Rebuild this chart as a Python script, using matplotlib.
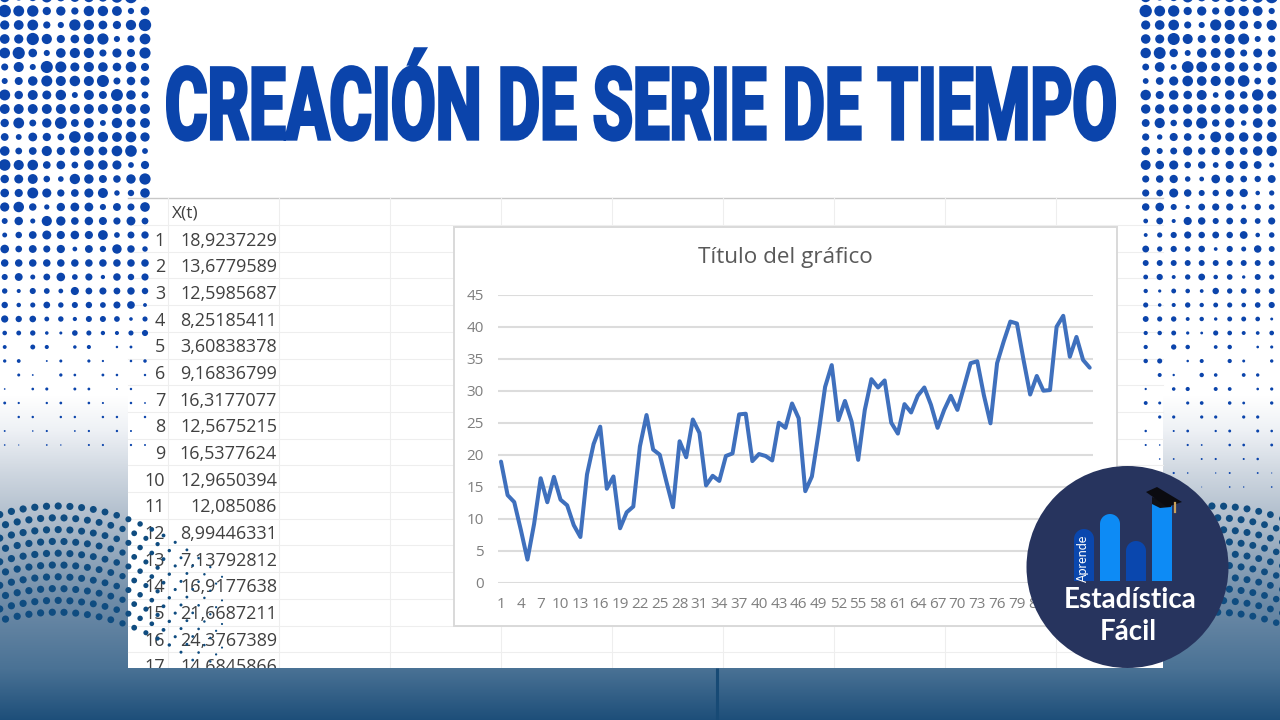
import numpy as np
import matplotlib
matplotlib.use("Agg")
import matplotlib.pyplot as plt
from matplotlib.colors import to_rgb
from matplotlib.patches import Circle, Polygon, Rectangle
from matplotlib.patheffects import AbstractPathEffect
from matplotlib.transforms import Affine2D

# %% values

x_t = [
    18.92, 13.68, 12.60, 8.25, 3.61, 9.17, 16.32, 12.57, 16.54, 12.97,
    12.09, 8.99, 7.14, 16.92, 21.67, 24.38, 14.68, 16.6, 8.5, 11.0,
    11.9, 21.3, 26.2, 20.8, 20.0, 15.8, 11.8, 22.1, 19.6, 25.5,
    23.4, 15.2, 16.7, 15.9, 19.8, 20.2, 26.3, 26.4, 19.0, 20.1,
    19.8, 19.1, 25.0, 24.2, 28.0, 25.7, 14.3, 16.6, 23.3, 30.6,
    34.0, 25.4, 28.4, 25.2, 19.2, 27.0, 31.8, 30.5, 31.6, 25.0,
    23.3, 27.9, 26.6, 29.2, 30.5, 27.8, 24.2, 27.0, 29.2, 27.0,
    30.6, 34.3, 34.6, 29.3, 24.9, 34.3, 37.7, 40.8, 40.5, 34.8,
    29.4, 32.3, 30.0, 30.1, 40.0, 41.7, 35.3, 38.4, 34.8, 33.6,
]
y_ticks = [0, 5, 10, 15, 20, 25, 30, 35, 40, 45]
# the labels after 82 are hidden by the logo
x_ticks = list(range(1, 83, 3))

table_rows = list(range(1, 18))
table_values = [
    "18,9237229", "13,6779589", "12,5985687", "8,25185411", "3,60838378",
    "9,16836799", "16,3177077", "12,5675215", "16,5377624", "12,9650394",
    "12,085086", "8,99446331", "7,13792812", "16,9177638", "21,6687211",
    "24,3767389", "14,6845866",
]

BLUE = "#0b44ab"
DOT_DARK = "#0f4c80"
NAVY = "#27345e"
W, H = 1280, 720


class StretchText(AbstractPathEffect):
    # the heading font is taller and narrower than anything installed
    def __init__(self, sy, lw):
        super().__init__()
        self.sy = sy
        self.lw = lw

    def draw_path(self, renderer, gc, tpath, affine, rgbFace=None):
        gc0 = renderer.new_gc()
        gc0.copy_properties(gc)
        gc0.set_linewidth(self.lw)
        gc0.set_joinstyle("miter")
        gc0.set_foreground(BLUE)
        renderer.draw_path(gc0, tpath, Affine2D().scale(1, self.sy) + affine, rgbFace)
        gc0.restore()


def halftone(ax, xs, ys, fade, z=4):
    # dots shrink with y; the pattern table only gives an uneven look
    pattern = [1.0, 0.85, 1.1, 0.7, 0.95, 1.2, 0.8, 1.0, 0.6, 1.05, 0.9]
    px, py, ps = [], [], []
    for i, x in enumerate(xs):
        for j, y in enumerate(ys):
            r = np.interp(y, fade[0], fade[1]) * pattern[(3 * i + 5 * j + i * j) % 11]
            if y > 340 and (i + 2 * j) % 3 == 0:
                continue
            px.append(x)
            py.append(y)
            ps.append((2 * r * 0.72) ** 2)
    ax.scatter(px, py, s=ps, color=BLUE, linewidths=0, zorder=z)


def arc_dots(ax, x0, k, xs, z=4):
    px, py, ps = [], [], []
    for row in range(10):
        for x in xs:
            xx = x + (row % 2) * 5.8
            y = 506 + k * (xx - x0) ** 2 + 11.8 * row
            dist = xx - x0
            if y > 662 or dist > 170:
                continue
            r = np.interp(dist, [0, 55, 85, 115, 170], [3.6, 3.4, 2.7, 1.6, 1.0])
            px.append(xx)
            py.append(y)
            ps.append((2 * r * 0.72) ** 2)
    ax.scatter(px, py, s=ps, color=DOT_DARK, linewidths=0, zorder=z)


fig = plt.figure(figsize=(W / 100, H / 100), dpi=100)
bg = fig.add_axes([0, 0, 1, 1], zorder=0)
bg.set_xlim(0, W)
bg.set_ylim(H, 0)
bg.axis("off")

# %% background gradient

stops_y = [0, 395, 430, 470, 520, 600, 668, 720]
stops_c = ["#ffffff", "#ffffff", "#eef1f5", "#d0d8e1", "#aebccb", "#6f8ca8", "#4a7295", "#1d4e79"]
rows = np.arange(H)
rgb = np.array([to_rgb(c) for c in stops_c])
grad = np.stack([np.interp(rows, stops_y, rgb[:, c]) for c in range(3)], axis=1)[:, None, :]
bg.imshow(grad, extent=[0, W, H, 0], aspect="auto", zorder=0)
bg.set_xlim(0, W)
bg.set_ylim(H, 0)

# %% heading panel and spreadsheet

bg.add_patch(Rectangle((150, 0), 990, 198, color="white", lw=0, zorder=1))
bg.add_patch(Rectangle((128, 198), 1035, 470, color="white", lw=0, zorder=1))
bg.plot([128, 1163], [197.5, 197.5], color="#c8c8c8", lw=1.0, zorder=1.5)

for cx in [168, 279, 390, 501, 612, 723, 834, 945, 1056]:
    bg.plot([cx, cx], [198, 668], color="#eeeeee", lw=0.8, zorder=1.5)
for k in range(17):
    ly = 225 + 26.7 * k
    bg.plot([128, 1163], [ly, ly], color="#eeeeee", lw=0.8, zorder=1.5)

table_font = ["Open Sans", "DejaVu Sans"]
bg.text(172, 213, "X(t)", fontsize=12.5, color="#404040", va="center", family=table_font, zorder=2)
for n, val in zip(table_rows, table_values):
    ty = 240.5 + 26.67 * (n - 1)
    bg.text(165, ty, str(n), fontsize=13, color="#404040", ha="right", va="center",
            family=table_font, zorder=2)
    bg.text(277, ty, val, fontsize=13, color="#404040", ha="right", va="center",
            family=table_font, zorder=2)

# bottom band sits over the cut off last row
bg.imshow(grad[668:], extent=[0, W, 720, 668], aspect="auto", zorder=3)
bg.set_xlim(0, W)
bg.set_ylim(H, 0)
bg.plot([716.5, 716.5], [668, 720], color="#174a75", lw=2.2, zorder=3.5, solid_capstyle="butt")

heading = bg.text(641, 139, "CREACIÓN DE SERIE DE TIEMPO", fontsize=46.8, fontweight="bold",
                  color=BLUE, ha="center", va="baseline", zorder=2,
                  family=["Liberation Sans Narrow", "Roboto", "DejaVu Sans"])
heading.set_path_effects([StretchText(1.54, 2.4)])

# %% chart card

bg.add_patch(Rectangle((453.5, 226.5), 663, 399, facecolor="white", edgecolor="#d9d9d9", lw=1.4, zorder=2))
bg.text(785, 258, "Título del gráfico", fontsize=16.2, color="#595959", ha="center", va="center",
        family=table_font, zorder=2.5)

ax = fig.add_axes([497.7 / W, 1 - 582.7 / H, (1093 - 497.7) / W, 288 / H], zorder=1)
ax.patch.set_alpha(0)
ax.plot(range(1, 91), x_t, color="#3f70bd", lw=2.9, solid_joinstyle="round", solid_capstyle="round", zorder=3)
ax.set_xlim(0.5, 90.5)
ax.set_ylim(0, 45)
ax.set_xticks(x_ticks)
ax.set_yticks(y_ticks)
ax.tick_params(axis="both", length=0, labelsize=11, labelcolor="#7f7f7f")
ax.tick_params(axis="x", pad=10)
ax.tick_params(axis="y", pad=10)
for lab in ax.get_xticklabels() + ax.get_yticklabels():
    lab.set_family(table_font)
ax.grid(axis="y", color="#dcdcdc", lw=1.5)
ax.set_axisbelow(True)
for s in ax.spines.values():
    s.set_visible(False)

# %% decoration and logo on top of the chart

top = fig.add_axes([0, 0, 1, 1], zorder=2)
top.patch.set_alpha(0)
top.set_xlim(0, W)
top.set_ylim(H, 0)
top.axis("off")

rows_y = [-3 + 14 * k for k in range(36)]
halftone(top, [4.7 + 14.03 * k for k in range(11)], [y for y in rows_y if y < 450],
         ([0, 170, 260, 320, 360, 450], [5.2, 4.8, 3.8, 3.0, 1.6, 1.0]))
halftone(top, [1145.7 + 14.0 * k for k in range(10)], [y for y in rows_y if y < 490],
         ([0, 130, 220, 300, 400, 490], [5.2, 4.6, 3.4, 2.6, 1.8, 0.8]))
arc_dots(top, 57, 0.0026, [-12 + 11.7 * k for k in range(26)])
arc_dots(top, 1215, 0.0028, [1130 + 11.7 * k for k in range(14)])

top.add_patch(Circle((1127.5, 567), 101, color=NAVY, lw=0, zorder=6))
for bx, btop, c, round_top in [
    (1074, 529, "#0a47ae", True),
    (1100, 514, "#0d8bf5", True),
    (1126, 541, "#0a47ae", True),
    (1152, 500, "#0d8bf5", False),
]:
    start = btop + 10 if round_top else btop
    top.add_patch(Rectangle((bx, start), 20, 581 - start, color=c, lw=0, zorder=7))
    if round_top:
        top.add_patch(Circle((bx + 10, btop + 10), 10, color=c, lw=0, zorder=7))

top.add_patch(Polygon([(1152, 497), (1172, 503), (1171, 507), (1160, 508), (1152, 504)], color="#101015", lw=0, zorder=8))
top.add_patch(Polygon([(1146, 492), (1157, 487), (1182, 502), (1167, 507)], color="#0b0b10", lw=0, zorder=8))
top.plot([1175, 1175], [503, 512], color="#c9a15c", lw=1.6, zorder=8)

logo_font = ["Lato", "DejaVu Sans"]
top.text(1083, 558, "Aprende", rotation=90, fontsize=9, color="white", ha="center", va="center",
         family=logo_font, zorder=9)
top.text(1130, 600, "Estadística", fontsize=20, fontweight="bold", color="white", ha="center", va="center",
         family=logo_font, zorder=9)
top.text(1128, 632, "Fácil", fontsize=20, fontweight="bold", color="white", ha="center", va="center",
         family=logo_font, zorder=9)

fig.savefig("out.png", dpi=100)
